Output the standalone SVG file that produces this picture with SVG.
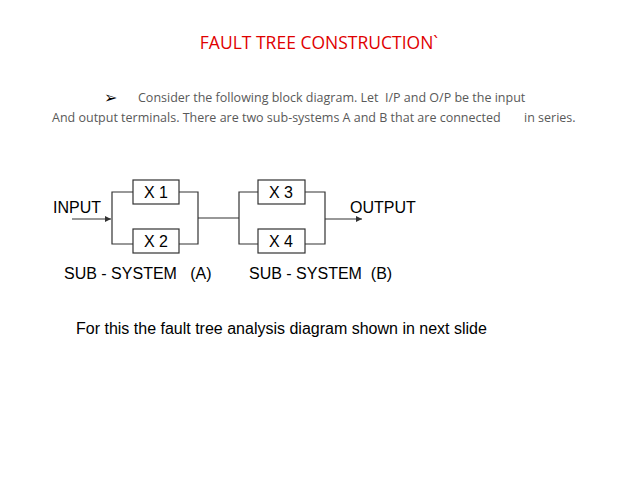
<svg xmlns="http://www.w3.org/2000/svg" width="638" height="478" viewBox="0 0 638 478">
<style>
.b{fill:#fff;stroke:#333;stroke-width:1.2}
.l{fill:none;stroke:#333;stroke-width:1.2}
.t{font-family:"Liberation Sans",Arial,sans-serif;font-size:16px;fill:#000}
.c{font-family:"Open Sans","Noto Sans",sans-serif;font-size:12.5px;fill:#595959}
</style>
<defs><marker id="a" markerWidth="6" markerHeight="6" refX="5" refY="3" orient="auto"><path d="M0,0.5L5,3L0,5.5z" fill="#333"/></marker></defs>
<rect width="638" height="478" fill="#fff"/>
<text x="319" y="49" text-anchor="middle" font-family="'Open Sans','Noto Sans',sans-serif" font-size="17.5" fill="#e00000">FAULT TREE CONSTRUCTION`</text>
<text x="104" y="103" font-family="'DejaVu Sans',sans-serif" font-size="16" fill="#000">➢</text>
<text x="138" y="102" class="c" xml:space="preserve">Consider the following block diagram. Let  I/P and O/P be the input</text>
<text x="52" y="122" class="c">And output terminals. There are two sub-systems A and B that are connected</text>
<text x="524" y="122" class="c">in series.</text>
<g id="connectors">
<path class="l" d="M72,219H111" marker-end="url(#a)"/>
<path class="l" d="M133,192H112V244H133M179,192H198V244H179M198,218H239M258,192H239V244H258M305,192H325V244H305"/>
<path class="l" d="M325,219H362" marker-end="url(#a)"/>
</g>
<g id="x1"><rect class="b" x="133" y="180" width="46" height="24"/><text class="t" x="156" y="198" text-anchor="middle">X 1</text></g>
<g id="x2"><rect class="b" x="133" y="229" width="46" height="24"/><text class="t" x="156" y="247" text-anchor="middle">X 2</text></g>
<g id="x3"><rect class="b" x="258" y="180" width="47" height="24"/><text class="t" x="281" y="198" text-anchor="middle">X 3</text></g>
<g id="x4"><rect class="b" x="258" y="229" width="47" height="24"/><text class="t" x="281" y="247" text-anchor="middle">X 4</text></g>
<text class="t" x="53" y="213">INPUT</text>
<text class="t" x="350" y="213">OUTPUT</text>
<text class="t" x="64" y="279" xml:space="preserve">SUB - SYSTEM   (A)</text>
<text class="t" x="249" y="279" xml:space="preserve">SUB - SYSTEM  (B)</text>
<text class="t" x="76" y="334">For this the fault tree analysis diagram shown in next slide</text>
</svg>
